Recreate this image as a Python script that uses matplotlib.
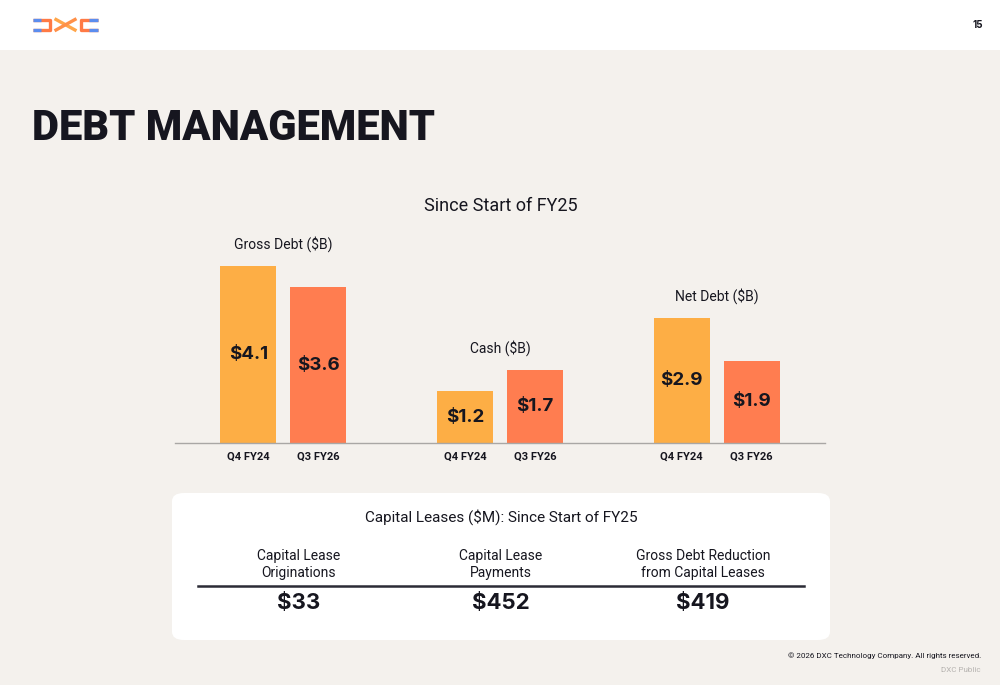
import matplotlib
matplotlib.use("Agg")
import matplotlib.pyplot as plt
from matplotlib.patches import FancyBboxPatch, Rectangle
import numpy as np

# ---- data ----
groups = ["Gross Debt ($B)", "Cash ($B)", "Net Debt ($B)"]
periods = ["Q4 FY24", "Q3 FY26"]
q4_fy24 = [4.1, 1.2, 2.9]
q3_fy26 = [3.6, 1.7, 1.9]
lease_headers = ["Capital Lease\nOriginations", "Capital Lease\nPayments", "Gross Debt Reduction\nfrom Capital Leases"]
lease_values = ["$33", "$452", "$419"]

BG = "#f4f1ed"
YEL = "#fdae45"
COR = "#ff7d50"
INK = "#16161f"
COND = ["Roboto", "DejaVu Sans"]
BOLD = ["Inter", "DejaVu Sans"]

fig = plt.figure(figsize=(10, 6.85), dpi=100)
fig.patch.set_facecolor(BG)

def fx(px):
    return px / 1000.0

def fy(py):
    return 1 - py / 685.0

# top white band
fig.patches.append(Rectangle((0, fy(50)), 1, 50 / 685, transform=fig.transFigure,
                             facecolor="white", edgecolor="none", zorder=-5))

# overlay axes in pixel coordinates for logo and divider line
lx = fig.add_axes([0, 0, 1, 1], facecolor="none", zorder=10)
lx.set_xlim(0, 1000); lx.set_ylim(685, 0); lx.axis("off")
lw = 2.4
lx.plot([33, 50, 50, 33], [19.5, 19.5, 30, 30], color="#ff7a45", lw=lw, solid_capstyle="butt")
lx.plot([33, 41], [19.5, 19.5], color="#5b8def", lw=lw, solid_capstyle="butt")
lx.plot([33, 41], [30, 30], color="#5b8def", lw=lw, solid_capstyle="butt")
lx.plot([56, 75], [19.5, 30], color="#ffa64a", lw=lw)
lx.plot([56, 75], [30, 19.5], color="#ff9048", lw=lw)
lx.plot([98, 81, 81, 98], [19.5, 19.5, 30, 30], color="#ff7a45", lw=lw, solid_capstyle="butt")
lx.plot([89, 98], [19.5, 19.5], color="#5b8def", lw=lw, solid_capstyle="butt")
lx.plot([89, 98], [30, 30], color="#5b8def", lw=lw, solid_capstyle="butt")
lx.plot([198, 804], [586, 586], color="#2b2b35", lw=1.8)

fig.text(fx(983), fy(25), "15", ha="right", va="center", fontsize=7, fontweight="bold",
         color=INK, family=BOLD)

# Title
fig.text(fx(32), fy(129), "DEBT MANAGEMENT", ha="left", va="center", fontsize=30,
         fontweight="black", color=INK, family=["Roboto", "DejaVu Sans"])

fig.text(fx(501), fy(206), "Since Start of FY25", ha="center", va="center", fontsize=13,
         color=INK, family=COND)

# ---- bar chart ----
ax = fig.add_axes([0.175, 1 - 443 / 685, 0.65, 243 / 685], facecolor="none")
x = np.arange(len(groups))
off = 35 / 217
w = 56 / 217
b1 = ax.bar(x - off, q4_fy24, width=w, color=YEL, zorder=2)
b2 = ax.bar(x + off, q3_fy26, width=w, color=COR, zorder=2)
ax.set_xlim(-0.5, 2.5)
ax.set_ylim(0, 243 / 43.2)
for bars, vals in ((b1, q4_fy24), (b2, q3_fy26)):
    for r, v in zip(bars, vals):
        ax.text(r.get_x() + r.get_width() / 2, v / 2, f"${v:.1f}", ha="center", va="center",
                fontsize=13.5, fontweight="bold", color=INK, family=BOLD, zorder=3)
for i, g in enumerate(groups):
    top = max(q4_fy24[i], q3_fy26[i])
    ax.text(x[i], top + 0.5, g, ha="center", va="center", fontsize=10, color=INK, family=COND)
ax.set_xticks(np.concatenate([x - off, x + off]))
ax.set_xticklabels([periods[0]] * 3 + [periods[1]] * 3, fontsize=8, color=INK,
                   family=COND, fontweight="bold")
ax.tick_params(axis="x", length=0, pad=6)
ax.set_yticks([])
for s in ("top", "left", "right"):
    ax.spines[s].set_visible(False)
ax.spines["bottom"].set_color("#a9a7a5")
ax.spines["bottom"].set_linewidth(1.0)

# ---- capital leases panel ----
panel = FancyBboxPatch((fx(172), fy(640)), fx(830 - 172), (640 - 493) / 685,
                       boxstyle="round,pad=0,rounding_size=0.012", transform=fig.transFigure,
                       facecolor="white", edgecolor="none", zorder=1)
fig.patches.append(panel)
fig.text(fx(501), fy(517), "Capital Leases ($M): Since Start of FY25", ha="center", va="center",
         fontsize=11, color=INK, family=COND, zorder=3)
cols = [299, 501, 703]
for cx, h, v in zip(cols, lease_headers, lease_values):
    fig.text(fx(cx), fy(564.5), h, ha="center", va="center", fontsize=10, color=INK,
             family=COND, linespacing=1.3, zorder=3)
    fig.text(fx(cx), fy(603), v, ha="center", va="center", fontsize=16, fontweight="bold",
             color=INK, family=BOLD, zorder=3)

# footer
fig.text(fx(981), fy(656), "© 2026 DXC Technology Company. All rights reserved.", ha="right",
         va="center", fontsize=5.8, color=INK, family=COND)
fig.text(fx(981), fy(670), "DXC Public", ha="right", va="center", fontsize=5.8,
         color="#b5b2af", family=COND)

fig.savefig("out.png", dpi=100, facecolor=fig.get_facecolor())
